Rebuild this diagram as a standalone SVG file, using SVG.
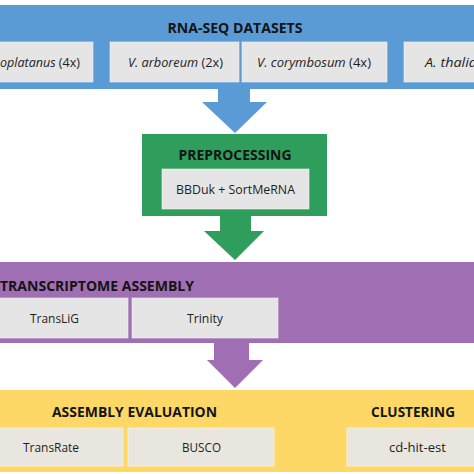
<svg xmlns="http://www.w3.org/2000/svg" width="474" height="474" viewBox="0 0 474 474">
<style>
.title{font-family:"Open Sans","Noto Sans",sans-serif;font-weight:bold;font-size:15px;fill:#141414}
.lbl{font-family:"Open Sans","Noto Sans",sans-serif;font-size:13px;fill:#1e1e1e}
.it{font-style:italic}
.box{fill:#e6e5e5;stroke:#f2f2f2;stroke-opacity:0.6;stroke-width:1}
.boxy{fill:#e8e6df;stroke:#f4efd8;stroke-width:1}
</style>
<rect width="474" height="474" fill="#ffffff"/>
<g id="connectors">
<polygon points="218,89 250,89 250,102 267,102 235,133 202,102 218,102" fill="#5b9bd5"/>
<polygon points="220,216 251,216 251,231 264,231 235,260 204,231 220,231" fill="#2f9d5b"/>
<polygon points="214,343 249,343 249,360 263,360 235,388 207,360 214,360" fill="#a06fb3"/>
</g>
<g id="rnaseq">
<rect x="0" y="5" width="474" height="84" fill="#5b9bd5"/>
<text class="title" x="235" y="33" text-anchor="middle" textLength="135" lengthAdjust="spacingAndGlyphs">RNA-SEQ DATASETS</text>
<g id="ds1"><rect class="box" x="-2" y="42" width="95" height="40"/><text class="lbl" x="0" y="67" textLength="80" lengthAdjust="spacingAndGlyphs"><tspan class="it">oplatanus</tspan> (4x)</text></g>
<g id="ds2"><rect class="box" x="110" y="42" width="129" height="40"/><text class="lbl" x="175.5" y="67" text-anchor="middle" textLength="95" lengthAdjust="spacingAndGlyphs"><tspan class="it">V. arboreum</tspan> (2x)</text></g>
<g id="ds3"><rect class="box" x="242" y="42" width="145" height="40"/><text class="lbl" x="314" y="67" text-anchor="middle" textLength="114" lengthAdjust="spacingAndGlyphs"><tspan class="it">V. corymbosum</tspan> (4x)</text></g>
<g id="ds4"><rect class="box" x="404" y="42" width="75" height="40"/><text class="lbl it" x="425" y="67" textLength="52" lengthAdjust="spacingAndGlyphs">A. thalia</text></g>
</g>
<g id="preprocessing">
<rect x="142" y="134" width="185" height="82" fill="#2f9d5b"/>
<text class="title" x="235" y="160" text-anchor="middle" textLength="113" lengthAdjust="spacingAndGlyphs">PREPROCESSING</text>
<rect class="box" x="162" y="169" width="147" height="40"/>
<text class="lbl" x="235.5" y="194" text-anchor="middle" textLength="119" lengthAdjust="spacingAndGlyphs">BBDuk + SortMeRNA</text>
</g>
<g id="assembly">
<rect x="0" y="262" width="474" height="81" fill="#a06fb3"/>
<text class="title" x="0" y="291" textLength="194" lengthAdjust="spacingAndGlyphs">TRANSCRIPTOME ASSEMBLY</text>
<g id="translig"><rect class="box" x="-2" y="298" width="130" height="40"/><text class="lbl" x="54.5" y="323" text-anchor="middle" textLength="49" lengthAdjust="spacingAndGlyphs">TransLiG</text></g>
<g id="trinity"><rect class="box" x="132" y="298" width="146" height="40"/><text class="lbl" x="205" y="323" text-anchor="middle" textLength="36" lengthAdjust="spacingAndGlyphs">Trinity</text></g>
</g>
<g id="evaluation">
<rect x="0" y="390" width="474" height="82" fill="#fdd866"/>
<text class="title" x="134.5" y="417" text-anchor="middle" textLength="165" lengthAdjust="spacingAndGlyphs">ASSEMBLY EVALUATION</text>
<text class="title" x="413" y="417" text-anchor="middle" textLength="84" lengthAdjust="spacingAndGlyphs">CLUSTERING</text>
<g id="transrate"><rect class="boxy" x="-2" y="428" width="125" height="38"/><text class="lbl" x="51" y="452" text-anchor="middle" textLength="56" lengthAdjust="spacingAndGlyphs">TransRate</text></g>
<g id="busco"><rect class="boxy" x="128" y="428" width="146" height="38"/><text class="lbl" x="201.5" y="452" text-anchor="middle" textLength="39" lengthAdjust="spacingAndGlyphs">BUSCO</text></g>
<g id="cdhit"><rect class="boxy" x="347" y="428" width="132" height="38"/><text class="lbl" x="417.5" y="452" text-anchor="middle" textLength="57" lengthAdjust="spacingAndGlyphs">cd-hit-est</text></g>
</g>
</svg>
